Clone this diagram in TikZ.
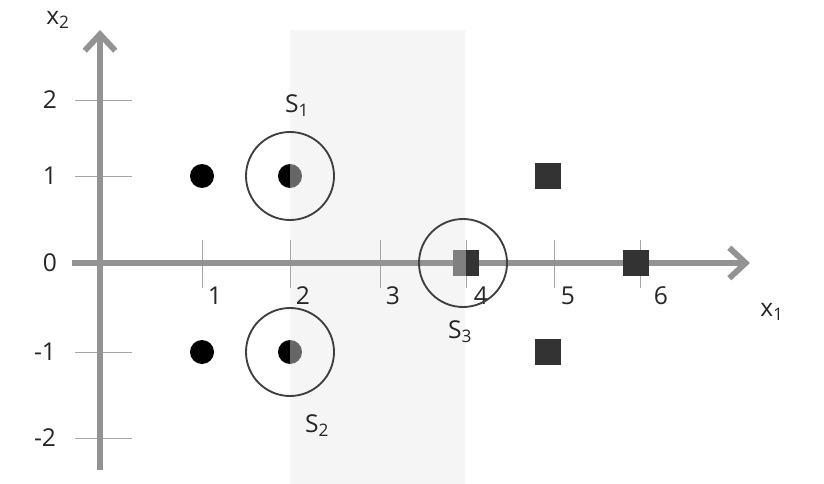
\documentclass[tikz,border=0pt]{standalone}
\usepackage{fontspec}
\setmainfont{Open Sans}
\usetikzlibrary{arrows.meta}
\begin{document}
\begin{tikzpicture}[x=0.03cm,y=-0.03cm,
  axis/.style={draw=gray!85,line width=5pt,-{Straight Barb[length=14pt,width=26pt,line width=5pt]}},
  tick/.style={draw=gray!70,line width=0.8pt},
  lbl/.style={font=\fontsize{21}{23}\selectfont,text=black!85},
  ring/.style={draw=black!75,line width=1.6pt}]
\useasboundingbox (0,0) rectangle (824,484);
\fill[black!4] (290,30) rectangle (465,484);
% ticks
\foreach \x in {202,290,380,466,554,640} \draw[tick] (\x,240) -- (\x,288);
\foreach \y in {100,176,352,438} \draw[tick] (75,\y) -- (132,\y);
\coordinate (o1) at (72,263); \coordinate (e1) at (750,263);
\coordinate (o2) at (100,470); \coordinate (e2) at (100,30);
\draw[axis] (o1) -- (e1);
\draw[axis] (o2) -- (e2);
% labels
\node[lbl] (t1) at (215,296) {1};
\node[lbl] (t2) at (303,296) {2};
\node[lbl] (t3) at (393,296) {3};
\node[lbl] (t4) at (481,296) {4};
\node[lbl] (t5) at (568,296) {5};
\node[lbl] (t6) at (661,296) {6};
\node[lbl] (y2) at (50,100) {2};
\node[lbl] (y1) at (50,176) {1};
\node[lbl] (y0) at (50,263) {0};
\node[lbl] (ym1) at (45,352) {-1};
\node[lbl] (ym2) at (45,438) {-2};
\node[lbl] (lx2) at (58,20) {x\textsubscript{2}};
\node[lbl] (lx1) at (772,312) {x\textsubscript{1}};
\node[lbl] (s1) at (297,106) {S\textsubscript{1}};
\node[lbl] (s2) at (317,426) {S\textsubscript{2}};
\node[lbl] (s3) at (460,332) {S\textsubscript{3}};
% points
\fill[black] (202,176) circle (12);
\fill[black] (202,352) circle (12);
\foreach \y in {176,352}{
  \fill[black] (290,\y+12) arc (90:270:12) -- cycle;
  \fill[gray!80!black] (290,\y+12) arc (90:-90:12) -- cycle;
}
\fill[black!80] (535,163) rectangle (561,189);
\fill[black!80] (535,339) rectangle (561,365);
\fill[gray] (453,250) rectangle (466,276);
\fill[black!80] (466,250) rectangle (479,276);
\fill[black!80] (623,250) rectangle (649,276);
% rings
\draw[ring] (290,176) circle (44);
\draw[ring] (290,352) circle (44);
\draw[ring] (463,263) circle (44);
\end{tikzpicture}
\end{document}
